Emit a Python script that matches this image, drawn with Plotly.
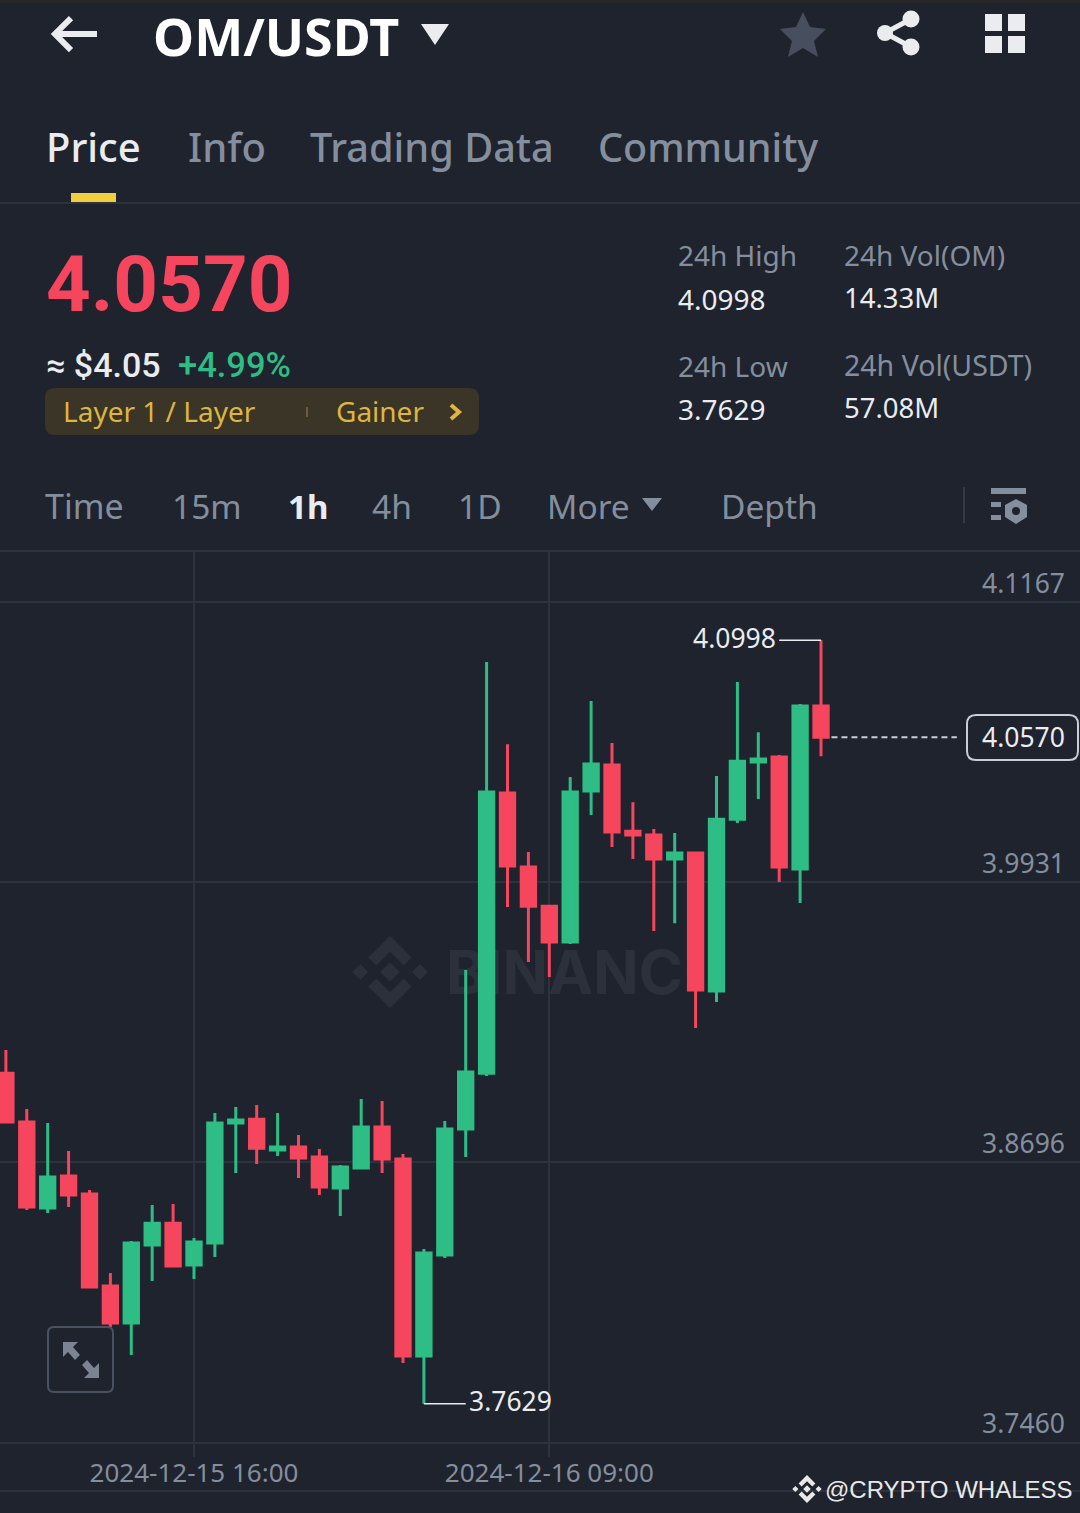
import pandas as pd
import plotly.graph_objects as go

# hourly candles
times = pd.date_range("2024-12-15 07:00", periods=40, freq="h")
opens = [3.9088, 3.8872, 3.8493, 3.8634, 3.8554, 3.8148, 3.7985, 3.8329, 3.8426, 3.8241,
         3.8338, 3.8868, 3.8885, 3.8749, 3.8762, 3.8718, 3.8581, 3.8669, 3.8850, 3.8709,
         3.7840, 3.8285, 3.8841, 3.9088, 4.0324, 3.9998, 3.9825, 3.9667, 4.0333, 4.0448,
         4.0156, 4.0139, 4.0033, 4.0059, 3.9450, 4.0209, 4.0461, 4.0483, 3.9989, 4.0708]
highs = [3.9190, 3.8930, 3.8868, 3.8744, 3.8572, 3.8206, 3.8347, 3.8506, 3.8510, 3.8360,
         3.8912, 3.8938, 3.8947, 3.8912, 3.8815, 3.8753, 3.8682, 3.8974, 3.8965, 3.8731,
         3.8312, 3.8877, 3.9543, 4.0902, 4.0540, 4.0064, 3.9830, 4.0395, 4.0730, 4.0545,
         4.0284, 4.0165, 4.0148, 4.0059, 4.0399, 4.0814, 4.0593, 4.0492, 4.0717, 4.0998]
lows = [3.8868, 3.8484, 3.8471, 3.8497, 3.8144, 3.7967, 3.7844, 3.8171, 3.8232, 3.8179,
        3.8276, 3.8647, 3.8687, 3.8722, 3.8625, 3.8550, 3.8457, 3.8669, 3.8647, 3.7809,
        3.7629, 3.8272, 3.8718, 3.9075, 3.9821, 3.9578, 3.9512, 3.9658, 4.0227, 4.0086,
        4.0033, 3.9715, 3.9750, 3.9287, 3.9402, 4.0192, 4.0298, 3.9931, 3.9839, 4.0487]
closes = [3.8872, 3.8497, 3.8630, 3.8550, 3.8144, 3.7985, 3.8338, 3.8426, 3.8237, 3.8343,
          3.8868, 3.8881, 3.8757, 3.8762, 3.8713, 3.8585, 3.8674, 3.8850, 3.8709, 3.7840,
          3.8294, 3.8841, 3.9093, 4.0329, 4.0002, 3.9825, 3.9667, 4.0329, 4.0452, 4.0152,
          4.0139, 4.0033, 4.0059, 3.9455, 4.0209, 4.0465, 4.0474, 3.9998, 4.0708, 4.0570]

price_ticks = [4.1167, 3.9931, 3.8696, 3.7460]
time_ticks = ["2024-12-15 16:00", "2024-12-16 09:00"]
last_price = 4.0570
day_high = 4.0998
day_low = 3.7629

BG = "#1E232E"
GRID = "#2D333D"
GRAY = "#848E9C"
WHITE = "#EAECEF"
RED = "#F6465D"
GREEN = "#2EBD85"
YELLOW = "#DDB53F"
FONT = "Noto Sans"
W, H = 1080, 1513


def px(x):
    return x / W


def py(y):
    return 1 - y / H


shapes = []


def rect(x0, y0, x1, y1, fill, layer="above"):
    shapes.append(dict(type="rect", xref="paper", yref="paper", x0=px(x0), x1=px(x1), y0=py(y0), y1=py(y1),
                       fillcolor=fill, line_width=0, layer=layer))


def poly(points, fill, layer="above"):
    d = "M" + " L".join(f"{px(x):.5f},{py(y):.5f}" for x, y in points) + " Z"
    shapes.append(dict(type="path", xref="paper", yref="paper", path=d, fillcolor=fill, line_width=0, layer=layer))


def stroke(points, color, width):
    d = "M" + " L".join(f"{px(x):.5f},{py(y):.5f}" for x, y in points)
    shapes.append(dict(type="path", xref="paper", yref="paper", path=d, line=dict(color=color, width=width)))


def circle(cx, cy, r, fill):
    shapes.append(dict(type="circle", xref="paper", yref="paper", x0=px(cx - r), x1=px(cx + r),
                       y0=py(cy - r), y1=py(cy + r), fillcolor=fill, line_width=0))


def round_rect(x0, y0, x1, y1, r, fill, line_color=None, width=0):
    d = (f"M{px(x0 + r):.5f},{py(y0):.5f} L{px(x1 - r):.5f},{py(y0):.5f} Q{px(x1):.5f},{py(y0):.5f} {px(x1):.5f},{py(y0 + r):.5f} "
         f"L{px(x1):.5f},{py(y1 - r):.5f} Q{px(x1):.5f},{py(y1):.5f} {px(x1 - r):.5f},{py(y1):.5f} "
         f"L{px(x0 + r):.5f},{py(y1):.5f} Q{px(x0):.5f},{py(y1):.5f} {px(x0):.5f},{py(y1 - r):.5f} "
         f"L{px(x0):.5f},{py(y0 + r):.5f} Q{px(x0):.5f},{py(y0):.5f} {px(x0 + r):.5f},{py(y0):.5f} Z")
    shapes.append(dict(type="path", xref="paper", yref="paper", path=d, fillcolor=fill,
                       line=dict(color=line_color or fill, width=width)))


def logo(cx, cy, s, fill, layer="above"):
    # binance mark, s = half height
    def diamond(x, y, r):
        poly([(x, y - r), (x + r, y), (x, y + r), (x - r, y)], fill, layer)

    diamond(cx, cy, 0.27 * s)
    diamond(cx - 0.83 * s, cy, 0.22 * s)
    diamond(cx + 0.83 * s, cy, 0.22 * s)
    poly([(cx, cy - s), (cx + 0.6 * s, cy - 0.4 * s), (cx + 0.38 * s, cy - 0.18 * s), (cx, cy - 0.56 * s),
          (cx - 0.38 * s, cy - 0.18 * s), (cx - 0.6 * s, cy - 0.4 * s)], fill, layer)
    poly([(cx, cy + s), (cx + 0.6 * s, cy + 0.4 * s), (cx + 0.38 * s, cy + 0.18 * s), (cx, cy + 0.56 * s),
          (cx - 0.38 * s, cy + 0.18 * s), (cx - 0.6 * s, cy + 0.4 * s)], fill, layer)


annotations = []


def label(x, y, text, size, color=GRAY, weight=400, family=FONT, anchor="left"):
    annotations.append(dict(xref="paper", yref="paper", x=px(x), y=py(y), text=text,
                            showarrow=False, xanchor=anchor, yanchor="middle", borderpad=0, borderwidth=0,
                            font=dict(family=family, size=size, color=color, weight=weight)))


# top of the screen
rect(0, 0, W, 3, "#262626")
stroke([(56, 34), (97, 34)], WHITE, 6)
stroke([(71, 18), (55, 34), (71, 50)], WHITE, 6)
label(153, 35, "OM/USDT", 52, "#FFFFFF", weight=700)
poly([(421, 24), (449, 24), (435, 45)], WHITE)
poly([(803, 12), (810, 27), (826, 29), (814, 41), (818, 57), (803, 48), (788, 57), (792, 41), (780, 29), (796, 27)], "#474F5E")
stroke([(885, 33), (911, 19)], WHITE, 5)
stroke([(885, 33), (911, 47)], WHITE, 5)
circle(885, 33, 8, WHITE)
circle(911, 19, 8.5, WHITE)
circle(911, 47, 8.5, WHITE)
rect(985, 14, 1002, 31, WHITE)
rect(1008, 14, 1025, 31, WHITE)
rect(985, 36, 1002, 53, WHITE)
rect(1008, 36, 1025, 53, WHITE)

# tabs
label(46, 147, "Price", 40, WHITE, weight=500)
label(188, 147, "Info", 40, weight=500)
label(310, 147, "Trading Data", 39.7, weight=500)
label(598, 147, "Community", 39.5, weight=500)
rect(0, 202, W, 204, GRID)
rect(71, 193, 116, 202, "#F0CF3F")

# price block
label(46, 284, "4.0570", 78, RED, weight=700, family="Roboto")
label(46, 365, "≈ $4.05", 34, WHITE, weight=500, family="Roboto")
label(178, 365, "+4.99%", 34.5, GREEN, weight=500, family="Roboto")
round_rect(45, 388, 479, 435, 10, "#3A3526")
label(63, 411, "Layer 1 / Layer", 28, YELLOW)
rect(306, 407, 308, 417, "#6B5E32")
label(336, 411, "Gainer", 28, YELLOW)
stroke([(451, 405), (459, 412), (451, 419)], YELLOW, 4)

label(678, 255, "24h High", 28)
label(678, 299, "4.0998", 28, WHITE)
label(844, 255, "24h Vol(OM)", 28)
label(844, 297, "14.33M", 27.5, WHITE)
label(678, 366, "24h Low", 28)
label(678, 409, "3.7629", 28, WHITE)
label(844, 365, "24h Vol(USDT)", 28.5)
label(844, 407, "57.08M", 27.5, WHITE)

# interval row
label(45, 506, "Time", 34)
label(172, 506, "15m", 33.5)
label(288, 506, "1h", 33, WHITE, weight=700)
label(372, 506, "4h", 33.5)
label(458, 506, "1D", 33.5)
label(547, 506, "More", 33.5)
poly([(642, 498), (662, 498), (652, 511)], GRAY)
label(721, 506, "Depth", 33.5)
rect(963, 487, 965, 523, "#343A46")
rect(991, 488, 1026, 494, GRAY)
rect(991, 502, 1001, 507, GRAY)
rect(991, 515, 1001, 520, GRAY)
poly([(1016, 499), (1027, 505), (1027, 517), (1016, 524), (1005, 517), (1005, 505)], GRAY)
circle(1016, 511, 4, BG)
rect(0, 550, W, 552, GRID)

# watermark sits under the candles
logo(390, 972, 36, "#2B303A", layer="below")
shapes.append(dict(type="rect", xref="paper", yref="paper", x0=px(443), x1=px(690), y0=py(997), y1=py(943),
                   line_width=0, layer="below",
                   label=dict(text="<b>BINANC</b>", textposition="middle left", padding=0,
                              font=dict(family="Inter", size=60, color="#2B303A"))))

# expand button
round_rect(48, 1327, 113, 1392, 6, "rgba(0,0,0,0)", "#4A5160", 2)
poly([(63, 1342), (78, 1342), (73, 1347), (80, 1355), (75, 1360), (68, 1352), (63, 1357)], "#7C8493")
poly([(99, 1378), (84, 1378), (89, 1373), (82, 1365), (87, 1360), (94, 1368), (99, 1363)], "#7C8493")

# bottom bar
rect(0, 1490, W, 1492, GRID)
logo(807, 1489, 14, "#E8E8E8")
label(825, 1489, "@CRYPTO WHALESS", 24, "#E8E8E8", family="Liberation Sans")

# current price box
round_rect(967, 715, 1078, 760, 9, BG, "#C9CDD4", 2)
label(1023, 737, f"{last_price:.4f}", 26.5, WHITE, anchor="center")

# high and low call-outs
annotations.append(dict(x=times[37], y=day_high, xref="x", yref="y", yshift=2, xshift=-1, text=f"{day_high:.4f}",
                        showarrow=False, xanchor="right", yanchor="middle",
                        font=dict(family=FONT, size=26.5, color=WHITE)))
annotations.append(dict(x=times[22], y=day_low, xref="x", yref="y", yshift=3, xshift=1, text=f"{day_low:.4f}",
                        showarrow=False, xanchor="left", yanchor="middle",
                        font=dict(family=FONT, size=26.5, color=WHITE)))

fig = go.Figure()
fig.add_trace(go.Candlestick(x=times, open=opens, high=highs, low=lows, close=closes,
                             increasing=dict(line=dict(color=GREEN, width=3), fillcolor=GREEN),
                             decreasing=dict(line=dict(color=RED, width=3), fillcolor=RED),
                             showlegend=False))
fig.add_trace(go.Scatter(x=[times[37], times[39]], y=[day_high, day_high], mode="lines",
                         line=dict(color=WHITE, width=1.5), showlegend=False))
fig.add_trace(go.Scatter(x=[times[20], times[22]], y=[day_low, day_low], mode="lines",
                         line=dict(color=WHITE, width=1.5), showlegend=False))
fig.add_trace(go.Scatter(x=[times[39] + pd.Timedelta(minutes=30), times[39] + pd.Timedelta(minutes=390)],
                         y=[last_price, last_price], mode="lines",
                         line=dict(color="#C9CDD4", width=2, dash="6px,4px"), showlegend=False))

fig.update_layout(
    width=W, height=H,
    margin=dict(l=0, r=0, t=0, b=0),
    paper_bgcolor=BG, plot_bgcolor=BG,
    boxgap=0.02,
    shapes=shapes, annotations=annotations,
    font=dict(family=FONT),
    xaxis=dict(
        range=["2024-12-15 06:43:06", "2024-12-17 10:23:30"],
        domain=[0, 1],
        rangeslider=dict(visible=False),
        tickvals=time_ticks, tickformat="%Y-%m-%d %H:%M",
        tickfont=dict(family=FONT, size=26, color=GRAY),
        ticks="outside", ticklen=13, tickcolor=GRID, tickwidth=2,
        ticklabelstandoff=-6,
        showgrid=True, gridcolor=GRID, gridwidth=2,
        showline=True, linecolor=GRID, linewidth=2,
        zeroline=False, fixedrange=True,
    ),
    yaxis=dict(
        range=[3.7460, 4.1388],
        domain=[py(1442), py(552)],
        side="right",
        tickvals=price_ticks, tickformat=".4f",
        ticklabelposition="inside", ticklabelstandoff=12, ticklabelshift=-18,
        tickfont=dict(family=FONT, size=26.5, color=GRAY),
        ticks="",
        showgrid=True, gridcolor=GRID, gridwidth=2,
        zeroline=False, fixedrange=True,
    ),
)

fig.write_html("out.html", config=dict(displayModeBar=False),
               post_script="document.body.style.margin='0';")
